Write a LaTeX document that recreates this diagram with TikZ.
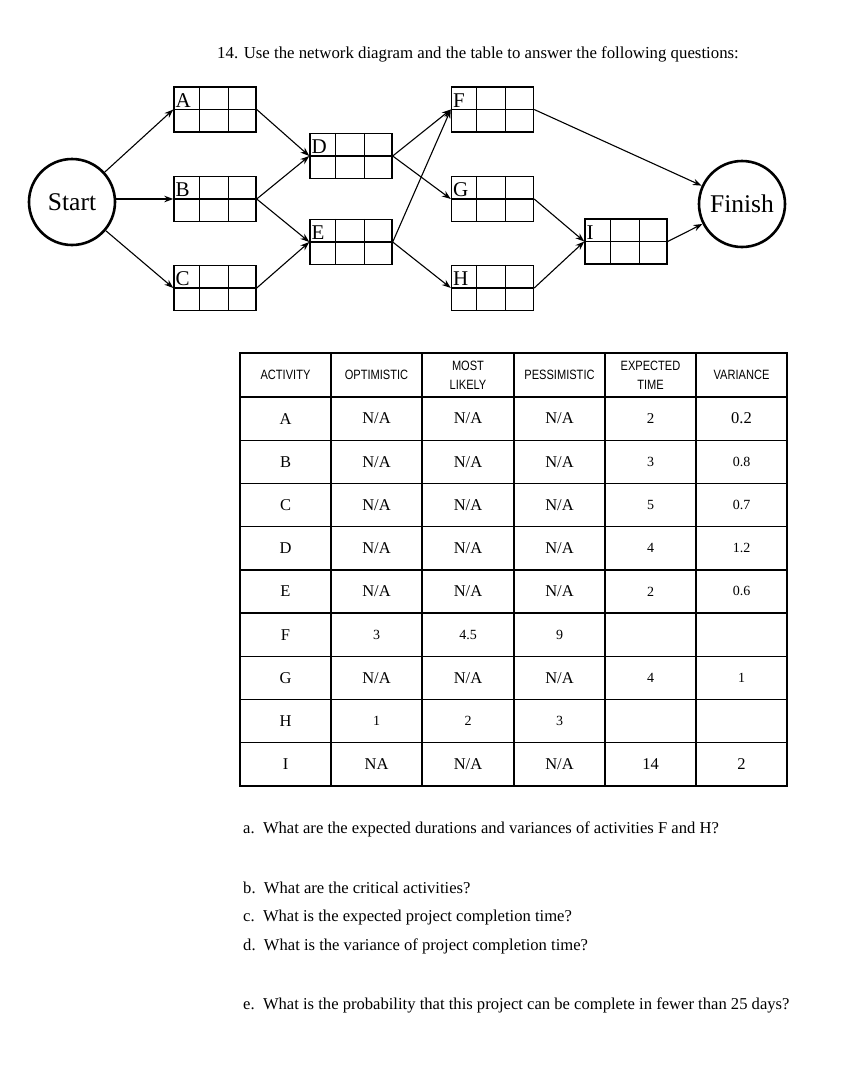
\documentclass[tikz,border=0pt]{standalone}
\usepackage{fontspec}
\setmainfont{Liberation Serif}
\newfontfamily\hdrfont[FakeStretch=0.82]{Liberation Sans}
\usetikzlibrary{arrows.meta}
\newcommand\tlg{\fontsize{16.5}{18}\selectfont}
\newcommand\tmd{\fontsize{15}{17}\selectfont}
\newcommand\tsm{\fontsize{14}{16}\selectfont}
\newcommand\actbox[4]{%
  \node[abox] (#1) at (#2,#3) {};
  \draw[gridline] (#1.west) -- (#1.east);
  \draw[gridline] ([xshift=26pt]#1.north west) -- ([xshift=26pt]#1.south west);
  \draw[gridline] ([xshift=55pt]#1.north west) -- ([xshift=55pt]#1.south west);
  \node[boxletter] (#1l) at ([xshift=2pt,yshift=2.5pt]#1.west) {#4};
}
\newcommand\trow[8]{%
  \node[cell] (r#1a) at (285.5,#2) {#3};
  \node[cell] (r#1b) at (376.5,#2) {#4};
  \node[cell] (r#1c) at (468,#2) {#5};
  \node[cell] (r#1d) at (559.5,#2) {#6};
  \node[cell] (r#1e) at (650.5,#2) {#7};
  \node[cell] (r#1f) at (741.5,#2) {#8};
}
\begin{document}
\begin{tikzpicture}[x=1pt,y=-1pt,
  abox/.style={draw, line width=1.4pt, minimum width=82pt, minimum height=45pt, inner sep=0pt},
  gridline/.style={line width=1.3pt},
  boxletter/.style={anchor=base west, inner sep=0pt, font=\fontsize{21}{22}\selectfont},
  endcirc/.style={draw, circle, line width=2.6pt, minimum size=86pt, inner sep=0pt, font=\fontsize{25.5}{27}\selectfont},
  arr/.style={-{Stealth[length=9pt,width=6.5pt]}, line width=1.1pt},
  tline/.style={line width=1.4pt},
  cell/.style={inner sep=0pt, anchor=center},
  hdr/.style={inner sep=0pt, align=center, font=\hdrfont\fontsize{13.5}{19}\selectfont},
  qtext/.style={anchor=west, inner sep=0pt, font=\fontsize{16.6}{18}\selectfont}
]
\useasboundingbox (0,0) rectangle (842,1066);

% title
\node[anchor=west, inner sep=0pt, font=\fontsize{16.8}{18}\selectfont] (title) at (217,54)
  {14. Use the network diagram and the table to answer the following questions:};

% network
\node[endcirc] (Start) at (72,202) {Start};
\node[endcirc] (Finish) at (742,204) {Finish};
\actbox{A}{215}{109.5}{A}
\actbox{B}{215}{199}{B}
\actbox{C}{215}{288}{C}
\actbox{D}{351}{156}{D}
\actbox{E}{351}{242}{E}
\actbox{F}{492.5}{109.5}{F}
\actbox{G}{492.5}{199}{G}
\actbox{H}{492.5}{288}{H}
\actbox{I}{626}{241.5}{I}

\draw[arr] (Start) -- (A.west);
\draw[arr] (Start.east |- B.west) -- (B.west);
\draw[arr] (Start) -- (C.west);
\draw[arr] (A.east) -- (D.west);
\draw[arr] (B.east) -- (D.west);
\draw[arr] (B.east) -- (E.west);
\draw[arr] (C.east) -- (E.west);
\draw[arr] (D.east) -- (F.west);
\draw[arr] (D.east) -- (G.west);
\draw[arr] (E.east) -- (F.west);
\draw[arr] (E.east) -- (H.west);
\draw[arr] (F.east) -- (Finish);
\draw[arr] (G.east) -- (I.west);
\draw[arr] (H.east) -- (I.west);
\draw[arr] (I.east) -- (Finish);

% table grid
\draw[tline] (240,353) rectangle (787,786);
\foreach \yy in {397,440.2,483.4,526.6,569.8,613,656.2,699.4,742.6}
  \draw[tline] (240,\yy) -- (787,\yy);
\foreach \xx in {331,422,514,605,696}
  \draw[tline] (\xx,353) -- (\xx,786);

% header
\node[hdr] (h1) at (285.5,375) {ACTIVITY};
\node[hdr] (h2) at (376.5,375) {OPTIMISTIC};
\node[hdr] (h3) at (468,375) {MOST\\LIKELY};
\node[hdr] (h4) at (559.5,375) {PESSIMISTIC};
\node[hdr] (h5) at (650.5,375) {EXPECTED\\TIME};
\node[hdr] (h6) at (741.5,375) {VARIANCE};

% rows
\trow{A}{418.6}{\tlg A}{\tlg N/A}{\tlg N/A}{\tlg N/A}{\tmd 2}{\tlg 0.2}
\trow{B}{461.8}{\tlg B}{\tlg N/A}{\tlg N/A}{\tlg N/A}{\tsm 3}{\tsm 0.8}
\trow{C}{505}{\tlg C}{\tlg N/A}{\tlg N/A}{\tlg N/A}{\tsm 5}{\tsm 0.7}
\trow{D}{548.2}{\tlg D}{\tlg N/A}{\tlg N/A}{\tlg N/A}{\tsm 4}{\tsm 1.2}
\trow{E}{591.4}{\tlg E}{\tlg N/A}{\tlg N/A}{\tlg N/A}{\tsm 2}{\tsm 0.6}
\trow{F}{634.6}{\tlg F}{\tsm 3}{\tsm 4.5}{\tsm 9}{}{}
\trow{G}{677.8}{\tlg G}{\tlg N/A}{\tlg N/A}{\tlg N/A}{\tsm 4}{\tsm 1}
\trow{H}{721}{\tlg H}{\tsm 1}{\tsm 2}{\tsm 3}{}{}
\trow{I}{764.2}{\tlg I}{\tlg NA}{\tlg N/A}{\tlg N/A}{\tlg 14}{\tlg 2}

% questions
\node[qtext] (qa) at (243,829) {a.\ \ What are the expected durations and variances of activities F and H?};
\node[qtext] (qb) at (243,888) {b.\ \ What are the critical activities?};
\node[qtext] (qc) at (243,917) {c.\ \ What is the expected project completion time?};
\node[qtext] (qd) at (243,946) {d.\ \ What is the variance of project completion time?};
\node[qtext] (qe) at (243,1005) {e.\ \ What is the probability that this project can be complete in fewer than 25 days?};
\end{tikzpicture}
\end{document}
